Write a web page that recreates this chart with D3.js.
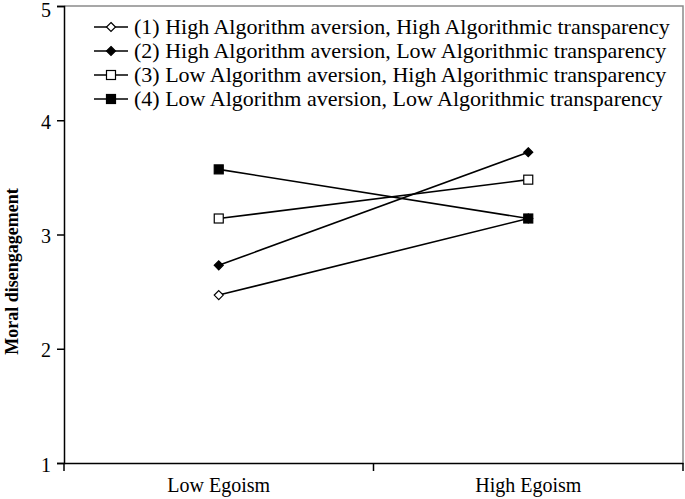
<!DOCTYPE html>
<html>
<head>
<meta charset="utf-8">
<script src="https://cdn.jsdelivr.net/npm/d3@7"></script>
<style>
  body { margin: 0; background: #fff; }
  text { font-family: "Liberation Serif", "Times New Roman", serif; fill: #000; }
</style>
</head>
<body>
<svg id="chart" width="685" height="499"></svg>
<script>
const categories = ['Low Egoism', 'High Egoism']
const seriesNames = [
  '(1) High Algorithm aversion, High Algorithmic transparency',
  '(2) High Algorithm aversion, Low Algorithmic transparency',
  '(3) Low Algorithm aversion, High Algorithmic transparency',
  '(4) Low Algorithm aversion, Low Algorithmic transparency'
]
const seriesShapes = ['diamond', 'diamond', 'square', 'square']
const seriesFilled = [false, true, false, true]
const values1 = [2.47, 3.14]
const values2 = [2.73, 3.72]
const values3 = [3.14, 3.48]
const values4 = [3.57, 3.14]
const yTicks = [1, 2, 3, 4, 5]

const allValues = [values1, values2, values3, values4]

const margin = {top: 6, right: 2, bottom: 36, left: 64}
const width = 685, height = 499
const svg = d3.select('#chart')

const x = d3.scalePoint()
  .domain(categories)
  .range([margin.left, width - margin.right])
  .padding(0.5)
const xBand = d3.scaleBand()
  .domain(categories)
  .range([margin.left, width - margin.right])
const y = d3.scaleLinear()
  .domain([1, 5])
  .range([height - margin.bottom, margin.top])

// top and right frame
svg.append('path')
  .attr('d', `M${margin.left},${margin.top}H${width - margin.right}V${height - margin.bottom}`)
  .attr('fill', 'none')
  .attr('stroke', '#8a8a8a')
  .attr('stroke-width', 1.5)

// y axis
svg.append('g')
  .attr('transform', `translate(${margin.left},0)`)
  .call(d3.axisLeft(y).tickValues(yTicks).tickSize(7).tickPadding(6).tickFormat(d3.format('d')))
  .call(g => g.select('.domain').attr('stroke-width', 1.5))
  .call(g => g.selectAll('.tick line').attr('stroke-width', 1.5))
  .call(g => g.selectAll('.tick text').style('font-size', '20px').attr('dy', d => d === 5 ? '0.5em' : '0.4em'))

// x axis, ticks at band edges
svg.append('g')
  .attr('transform', `translate(0,${height - margin.bottom})`)
  .call(d3.axisBottom(xBand).tickSize(0).tickPadding(15))
  .call(g => g.select('.domain').attr('stroke-width', 1.5))
  .call(g => g.selectAll('.tick text').style('font-size', '20px'))
  .call(g => g.selectAll('.edge')
    .data([margin.left, width / 2 + (margin.left - margin.right) / 2, width - margin.right])
    .join('line')
    .attr('class', 'edge')
    .attr('x1', d => d).attr('x2', d => d)
    .attr('y1', 0).attr('y2', 8)
    .attr('stroke', '#000')
    .attr('stroke-width', 1.5))

// y title
svg.append('text')
  .attr('transform', `translate(18,${(margin.top + height - margin.bottom) / 2 + 37}) rotate(-90)`)
  .attr('text-anchor', 'middle')
  .style('font-size', '18px')
  .style('font-weight', 'bold')
  .text('Moral disengagement')

function marker(sel, shape, filled) {
  if (shape === 'diamond') {
    sel.append('path')
      .attr('d', 'M0,-4.5L4.5,0L0,4.5L-4.5,0Z')
      .attr('fill', filled ? '#000' : '#fff')
      .attr('stroke', '#000')
      .attr('stroke-width', 1.2)
  } else {
    sel.append('rect')
      .attr('x', -4.5).attr('y', -4.5)
      .attr('width', 9).attr('height', 9)
      .attr('fill', filled ? '#000' : '#fff')
      .attr('stroke', '#000')
      .attr('stroke-width', 1.2)
  }
}

const line = d3.line()
  .x((d, i) => x(categories[i]))
  .y(d => y(d))

allValues.forEach((vals, s) => {
  svg.append('path')
    .datum(vals)
    .attr('d', line)
    .attr('fill', 'none')
    .attr('stroke', '#000')
    .attr('stroke-width', 1.6)
  vals.forEach((v, i) => {
    const g = svg.append('g')
      .attr('transform', `translate(${x(categories[i])},${y(v)})`)
    marker(g, seriesShapes[s], seriesFilled[s])
  })
})

// legend
const legend = svg.append('g').attr('transform', 'translate(94,27)')
seriesNames.forEach((name, i) => {
  const row = legend.append('g').attr('transform', `translate(0,${i * 24})`)
  row.append('line')
    .attr('x1', 0).attr('x2', 34)
    .attr('stroke', '#000')
    .attr('stroke-width', 1.6)
  marker(row.append('g').attr('transform', 'translate(17,0)'), seriesShapes[i], seriesFilled[i])
  row.append('text')
    .attr('x', 40)
    .attr('y', 7)
    .style('font-size', '22px')
    .text(name)
})
</script>
</body>
</html>
